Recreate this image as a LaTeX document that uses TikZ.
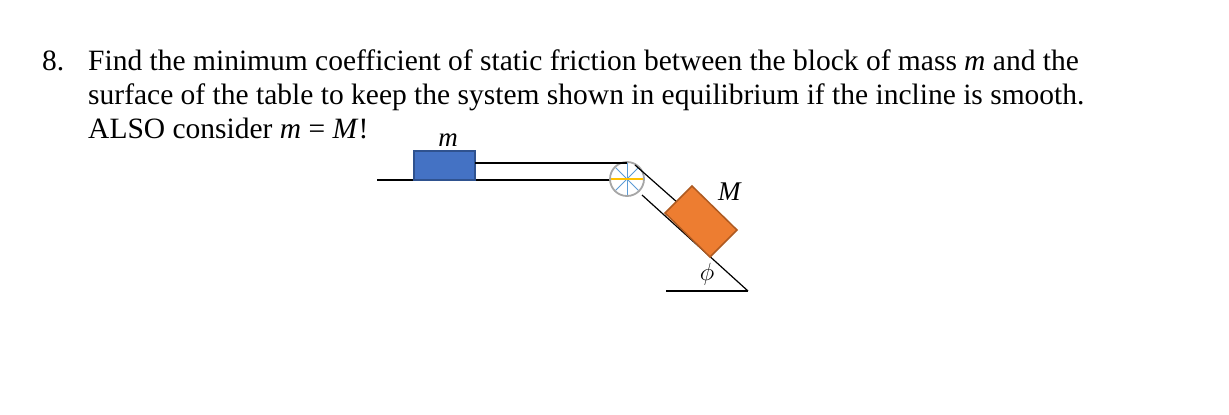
\documentclass[tikz,border=0pt]{standalone}
\usepackage{fontspec}
\setmainfont{Liberation Serif}
\usetikzlibrary{calc}
\definecolor{bfill}{HTML}{4472C4}
\definecolor{bedge}{HTML}{2F528F}
\definecolor{ofill}{HTML}{ED7D31}
\definecolor{oedge}{HTML}{AE5A21}
\definecolor{spoke}{HTML}{5B9BD5}
\definecolor{ybar}{HTML}{FFC000}
\begin{document}
\begin{tikzpicture}[x=1pt,y=-1pt,
  txt/.style={anchor=base west,inner sep=0pt,font=\fontsize{29.5}{34}\selectfont},
  lbl/.style={inner sep=0pt,font=\fontsize{27}{30}\selectfont},
  ln/.style={draw=black,line width=1.2pt}]
\useasboundingbox[fill=white] (0,0) rectangle (1229,415);
\node[txt] (n8) at (42,70) {8.};
\node[txt] (l1) at (88,70) {Find the minimum coefficient of static friction between the block of mass \textit{m} and the};
\node[txt] (l2) at (88,104) {surface of the table to keep the system shown in equilibrium if the incline is smooth.};
\node[txt] (l3) at (88,138) {ALSO consider \textit{m} = \textit{M}!};
% table
\coordinate (t0) at (377,180);
\coordinate (t1) at (611,180);
\draw[ln] (t0) -- (t1);
% pulley
\coordinate (pc) at (627,179);
\foreach \a in {45,90,135,225,270,315} \draw[draw=spoke,line width=1pt] (pc) -- ++(\a:16);
\draw[draw=ybar,line width=1.2pt] ($(pc)+(-16,0)$) -- ($(pc)+(16,0)$);
\node[circle,draw=gray!70,line width=1.8pt,minimum size=34pt,inner sep=0pt] (pul) at (pc) {};
% incline
\coordinate (i0) at (642,195);
\coordinate (i1) at (748,291);
\coordinate (b0) at (666,291);
\draw[ln] (i0) -- (i1);
\draw[ln] (b0) -- (i1);
% blocks
\draw[draw=bedge,fill=bfill,line width=1.5pt] (414,151) rectangle (475,180);
\coordinate (sm) at (475,163);
\coordinate (pt) at (627,163);
\draw[ln] (sm) -- (pt);
\coordinate (s1) at (635,165);
\coordinate (s2) at (678,203);
\draw[ln] (s1) -- (s2);
\draw[draw=oedge,fill=ofill,line width=1.5pt] (665,213) -- (692,186) -- (737,230) -- (710,257) -- cycle;
\node[lbl] (lm) at (448,140) {\textit{m}};
\node[lbl] (lM) at (730,192) {\textit{M}};
\node[lbl] (lphi) at (707,274) {$\phi$};
\end{tikzpicture}
\end{document}
